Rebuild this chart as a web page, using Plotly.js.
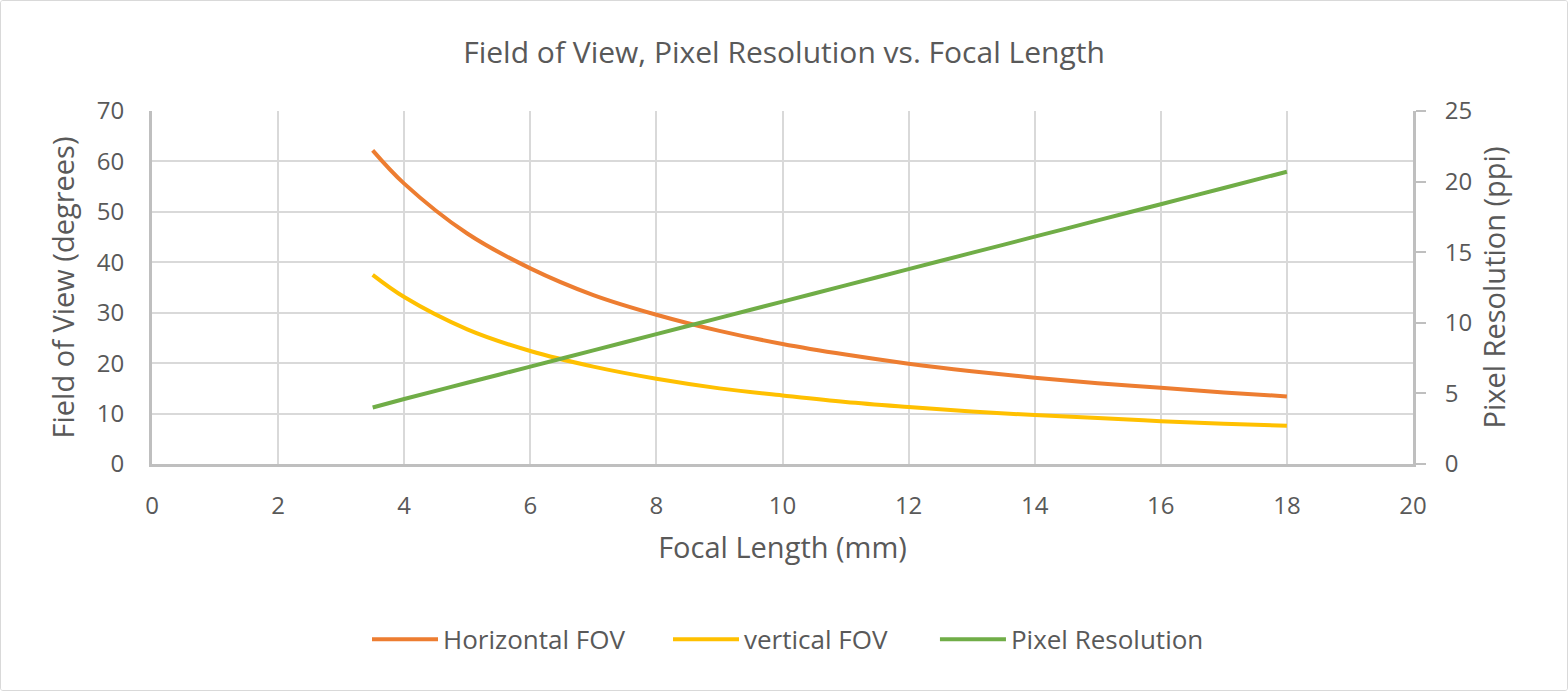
<!DOCTYPE html>
<html><head><meta charset="utf-8">
<script src="https://cdn.plot.ly/plotly-3.0.1.min.js"></script>
<style>
html,body{margin:0;padding:0;background:#fff;}
#wrap{width:1568px;height:691px;box-sizing:border-box;border:1px solid #d9d9d9;border-radius:3px;overflow:hidden;}
#chart{width:1566px;height:689px;}
</style></head>
<body><div id="wrap"><div id="chart"></div></div>
<script>
const focalLength = [3.5, 4, 5, 6, 7, 8, 9, 10, 11, 12, 13, 14, 15, 16, 17, 18];
const horizontalFOV = [62.2, 55.6, 45.7, 38.8, 33.5, 29.6, 26.4, 23.8, 21.7, 19.9, 18.4, 17.1, 16.0, 15.1, 14.2, 13.4];
const verticalFOV = [37.5, 33.1, 26.7, 22.4, 19.3, 16.9, 15.0, 13.6, 12.3, 11.3, 10.4, 9.7, 9.1, 8.5, 8.0, 7.6];
const pixelResolution = [4.0, 4.6, 5.75, 6.9, 8.05, 9.2, 10.35, 11.5, 12.65, 13.8, 14.95, 16.1, 17.25, 18.4, 19.55, 20.7];
const seriesNames = ["Horizontal FOV", "vertical FOV", "Pixel Resolution"];
const xTicks = [0, 2, 4, 6, 8, 10, 12, 14, 16, 18, 20];
const leftTicks = [0, 10, 20, 30, 40, 50, 60, 70];
const rightTicks = [0, 5, 10, 15, 20, 25];

const FONT = "Open Sans, sans-serif";
const GREY = "#595959";

const traces = [
  {x: focalLength, y: horizontalFOV, name: seriesNames[0], mode: "lines", line: {color: "#ED7D31", width: 4, shape: "spline"}, yaxis: "y", legend: "legend"},
  {x: focalLength, y: verticalFOV, name: seriesNames[1], mode: "lines", line: {color: "#FFC000", width: 4, shape: "spline"}, yaxis: "y", legend: "legend2"},
  {x: focalLength, y: pixelResolution, name: seriesNames[2], mode: "lines", line: {color: "#70AD47", width: 4, shape: "spline"}, yaxis: "y2", legend: "legend3"}
];

function leg(x) {
  return {orientation: "h", x: x, xanchor: "left", y: -0.497, yanchor: "middle",
          font: {size: 26, color: GREY}, itemwidth: 66, bgcolor: "rgba(0,0,0,0)", borderwidth: 0};
}

const layout = {
  width: 1566, height: 689,
  margin: {l: 151, r: 154, t: 110, b: 226},
  paper_bgcolor: "#fff", plot_bgcolor: "#fff",
  font: {family: FONT, color: GREY, size: 24},
  title: {text: "Field of View, Pixel Resolution vs. Focal Length", font: {size: 30, color: GREY, family: FONT}, x: 0.5, xanchor: "center", y: 0.925, yanchor: "middle"},
  xaxis: {
    range: [0, 20], tickvals: xTicks, ticktext: xTicks.map(String),
    showgrid: true, gridcolor: "#d9d9d9", gridwidth: 2,
    showline: true, linecolor: "#bfbfbf", linewidth: 3,
    zeroline: false, ticks: "", ticklabelstandoff: 18,
    tickfont: {size: 24, color: GREY},
    title: {text: "Focal Length (mm)", font: {size: 29, color: GREY}, standoff: 18}
  },
  yaxis: {
    range: [0, 70], tickvals: leftTicks, ticktext: leftTicks.map(String),
    showgrid: true, gridcolor: "#d9d9d9", gridwidth: 2,
    showline: true, linecolor: "#bfbfbf", linewidth: 3,
    zeroline: false, ticks: "", ticklabelstandoff: 20,
    tickfont: {size: 24, color: GREY},
    title: {text: "Field of View (degrees)", font: {size: 29, color: GREY}, standoff: 14}
  },
  yaxis2: {
    range: [0, 25], tickvals: rightTicks, ticktext: rightTicks.map(String),
    overlaying: "y", side: "right", showgrid: false,
    showline: true, linecolor: "#bfbfbf", linewidth: 3,
    zeroline: false, ticks: "outside", ticklen: 10, tickcolor: "#bfbfbf", tickwidth: 2,
    ticklabelstandoff: 14,
    tickfont: {size: 24, color: GREY},
    title: {text: "Pixel Resolution (ppi)", font: {size: 29, color: GREY}, standoff: 14}
  },
  legend: leg(0.1705),
  legend2: leg(0.4092),
  legend3: leg(0.6209),
  showlegend: true
};

Plotly.newPlot("chart", traces, layout, {displayModeBar: false, staticPlot: true});
</script></body></html>
